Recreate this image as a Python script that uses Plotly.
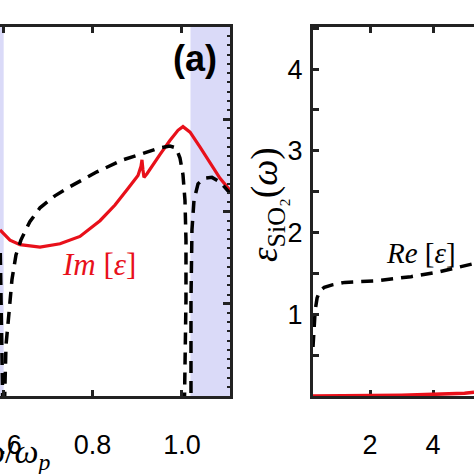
import plotly.graph_objects as go

# ---------------- data (left panel, arbitrary units of eps vs omega/omega_p) --------------
im_x = [0.5933, 0.6156, 0.638, 0.6827, 0.7274, 0.772, 0.8168, 0.8503, 0.8793, 0.9017,
        0.9084, 0.9106, 0.9128, 0.915, 0.9218, 0.9352, 0.951, 0.973, 0.991, 1.0022,
        1.018, 1.040, 1.0626, 1.085, 1.1073]
im_y = [1.80, 1.69, 1.64, 1.615, 1.65, 1.73, 1.90, 2.07, 2.25, 2.39,
        2.49, 2.56, 2.45, 2.37, 2.41, 2.50, 2.62, 2.77, 2.88, 2.92,
        2.86, 2.70, 2.53, 2.36, 2.23]

re_x = [0.6022, 0.6067, 0.6134, 0.620, 0.629, 0.640, 0.660, 0.6827, 0.716, 0.75,
        0.81, 0.868, 0.913, 0.951, 0.973, 0.9866, 0.9955, 1.0022, 1.0067, 1.0089,
        1.0089, 1.0067, 1.0045]
re_y = [-0.3, 0.55, 0.90, 1.26, 1.53, 1.69, 1.89, 2.04, 2.17, 2.27,
        2.43, 2.56, 2.63, 2.69, 2.71, 2.69, 2.58, 2.40, 2.12, 1.69,
        1.04, 0.39, -0.4]

re2_x = [1.0201, 1.0201, 1.0223, 1.0268, 1.0358, 1.0492, 1.067, 1.0849, 1.1073]
re2_y = [-0.4, 1.04, 1.80, 2.12, 2.30, 2.36, 2.37, 2.32, 2.20]

re0_x = [0.5940, 0.5960, 0.5990, 0.6005]
re0_y = [1.55, 0.9, 0.2, -0.4]

# ---------------- data (right panel, SiO2 permittivity) --------------
sio_x = [0.19, 0.22, 0.26, 0.32, 0.40, 0.55, 0.8, 1.2, 2.2, 3.3, 4.2, 5.3]
sio_re = [0.60, 0.85, 1.05, 1.20, 1.28, 1.33, 1.36, 1.39, 1.41, 1.46, 1.52, 1.62]
sio_im_x = [0.19, 1.0, 2.0, 3.0, 4.0, 4.5, 5.0, 5.3]
sio_im = [0.0, 0.0, 0.005, 0.01, 0.02, 0.025, 0.035, 0.045]

W = H = 474
def px(x): return x / W
def py(y): return 1 - y / H

DASH = "12px,8px"
AX = "#222222"
TICKFONT = dict(family="Liberation Sans, Arial", size=27, color="black")
SERIF = "Liberation Serif, DejaVu Serif, serif"

fig = go.Figure()
fig.add_trace(go.Scatter(x=im_x, y=im_y, mode="lines", line=dict(color="#e8101a", width=3.2),
                         xaxis="x", yaxis="y", showlegend=False))
for xs, ys in [(re_x, re_y), (re2_x, re2_y), (re0_x, re0_y)]:
    fig.add_trace(go.Scatter(x=xs, y=ys, mode="lines",
                             line=dict(color="black", width=3.5, dash=DASH),
                             xaxis="x", yaxis="y", showlegend=False))
fig.add_trace(go.Scatter(x=sio_x, y=sio_re, mode="lines",
                         line=dict(color="black", width=3.5, dash=DASH),
                         xaxis="x2", yaxis="y2", showlegend=False))
fig.add_trace(go.Scatter(x=sio_im_x, y=sio_im, mode="lines",
                         line=dict(color="#e8101a", width=3.5),
                         xaxis="x2", yaxis="y2", showlegend=False))

ydom = [py(396), py(27)]
fig.update_layout(
    width=W, height=H, margin=dict(l=0, r=0, t=0, b=0, autoexpand=False),
    paper_bgcolor="white", plot_bgcolor="white",
    xaxis=dict(domain=[0, px(230)], range=[0.5933, 1.1073], tickvals=[0.6, 0.8, 1.0],
               ticktext=["0.6", "0.8", "1.0"], ticks="inside", ticklen=6, tickwidth=2.5,
               tickcolor=AX, showline=True, linewidth=3, linecolor=AX, mirror="ticks",
               showgrid=False, zeroline=False, tickfont=TICKFONT, anchor="y",
               ticklabeloverflow="allow", ticklabelstandoff=23, automargin=False),
    yaxis=dict(domain=ydom, range=[0, 4], side="right", tickvals=[0, 1, 2, 3, 4],
               showticklabels=False, ticks="inside", ticklen=7, tickwidth=2.5, tickcolor=AX,
               minor=dict(dtick=0.1, ticks="inside", ticklen=3.5, tickwidth=2, tickcolor=AX),
               showline=True, linewidth=3, linecolor=AX, showgrid=False, zeroline=False,
               anchor="x", automargin=False),
    xaxis2=dict(domain=[px(313), 1], range=[0.19, 5.3], tickvals=[2, 4], ticks="inside",
                ticklen=6, tickwidth=2.5, tickcolor=AX, showline=True, linewidth=3,
                linecolor=AX, mirror="ticks", showgrid=False, zeroline=False,
                tickfont=TICKFONT, anchor="y2", layer="below traces",
                ticklabelstandoff=23, automargin=False),
    yaxis2=dict(domain=ydom, range=[0, 4.515], tickvals=[1, 2, 3, 4], ticks="inside",
                ticklen=6, tickwidth=2.5, tickcolor=AX,
                minor=dict(dtick=0.5, ticks="inside", ticklen=6, tickwidth=2.5, tickcolor=AX),
                showline=True, linewidth=3, linecolor=AX, showgrid=False, zeroline=False,
                tickfont=TICKFONT, anchor="x2", ticklabelstandoff=2, automargin=False),
)

SHADE = "#dadaf8"
fig.add_shape(type="rect", xref="x", yref="y", x0=0.5933, x1=0.6015, y0=0, y1=4,
              fillcolor=SHADE, line_width=0, layer="below")
fig.add_shape(type="rect", xref="x", yref="y", x0=1.019, x1=1.1073, y0=0, y1=4,
              fillcolor=SHADE, line_width=0, layer="below")

def ann(x, y, text, font, **kw):
    opts = dict(xanchor="center", yanchor="middle")
    opts.update(kw)
    fig.add_annotation(x=px(x), y=py(y), xref="paper", yref="paper", showarrow=False,
                       text=text, font=font, **opts)

ann(195, 58, "<b>(a)</b>", dict(family="Liberation Sans, Arial", size=36, color="black"))
ann(99, 264, "<i>Im</i> [<i>ε</i>]", dict(family=SERIF, size=31, color="#e8101a"))
ann(421, 253, "<i>Re</i> [<i>ε</i>]", dict(family=SERIF, size=29, color="black"))
ann(52, 454, "<i>ω</i>/<i>ω</i><sub><i>p</i></sub>", dict(family=SERIF, size=34, color="black"),
    xanchor="right")
ann(268, 205, "<i>ε</i><sub>SiO₂</sub>(<i>ω</i>)", dict(family=SERIF, size=37, color="black"),
    textangle=-90)

fig.write_html("out.html")
